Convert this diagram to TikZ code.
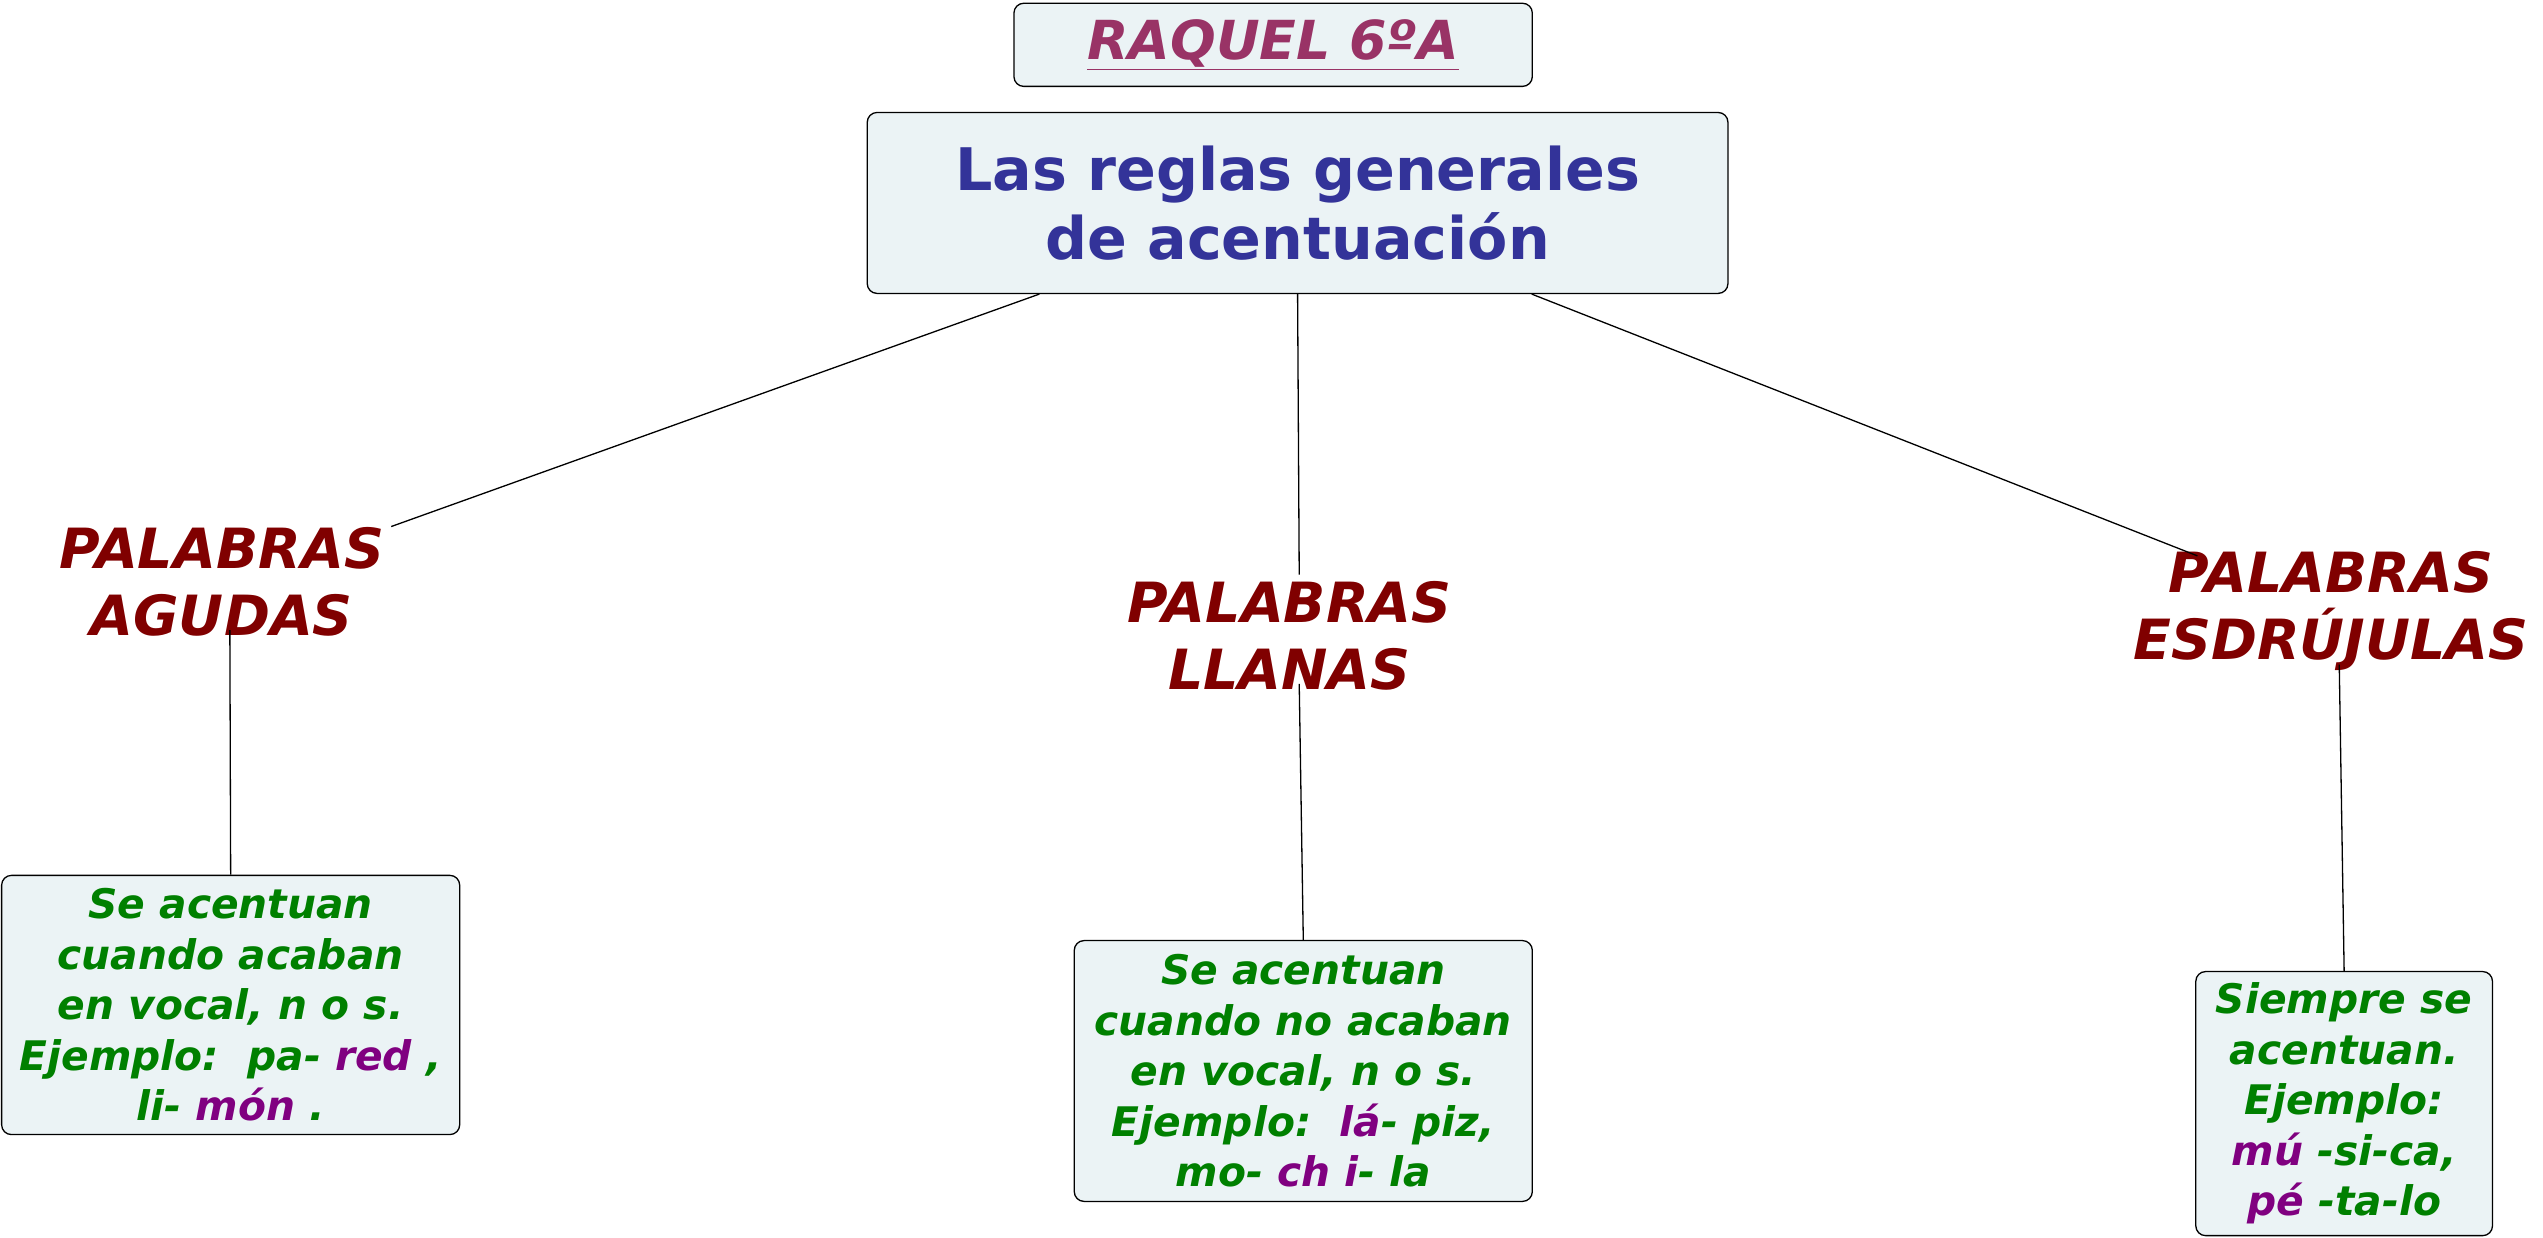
\documentclass[tikz,border=0pt]{standalone}
\usepackage{fontspec}
\setmainfont{DejaVu Sans}
\usetikzlibrary{calc}
\definecolor{boxfill}{HTML}{EBF3F5}
\definecolor{titleblue}{HTML}{333399}
\definecolor{dred}{HTML}{800000}
\definecolor{dgreen}{HTML}{008000}
\definecolor{purp}{HTML}{800080}
\definecolor{raq}{HTML}{993366}
\tikzset{
  box/.style={draw, rounded corners=6pt, fill=boxfill, line width=0.8pt, inner sep=0pt},
  cat/.style={text=dred, font=\fontsize{34}{41}\selectfont\bfseries\itshape, align=center, inner sep=0pt},
  desc/.style={text=dgreen, font=\fontsize{25}{31}\selectfont\bfseries\itshape, align=center, inner sep=0pt},
  link/.style={line width=0.8pt}
}
\newcommand{\pu}[1]{\textcolor{purp}{#1}}
\begin{document}
\begin{tikzpicture}[x=1pt,y=-1pt]
\useasboundingbox (0,0) rectangle (1560,759);
% title boxes
\node[box, minimum width=318pt, minimum height=51pt] (raq) at (781,27.5) {};
\node[text=raq, font=\fontsize{33}{40}\selectfont\bfseries\itshape] at (raq) {\underline{RAQUEL 6ºA}};
\node[box, minimum width=528pt, minimum height=111pt] (main) at (796,124.5) {};
\node[text=titleblue, font=\fontsize{36}{42}\selectfont\bfseries, align=center] at (main) {Las reglas generales\\de acentuación};
% categories
\node[cat] (ag) at (136,357) {PALABRAS\\AGUDAS};
\node[cat] (ll) at (791,390) {PALABRAS\\LLANAS};
\node[cat] (es) at (1430,375) {PALABRAS\\ESDRÚJULAS};
% description boxes
\node[box, minimum width=281pt, minimum height=159pt] (b1) at (141.5,616.5) {};
\node[desc] at (b1) {Se acentuan\\cuando acaban\\en vocal, n o s.\\Ejemplo:\ \ pa- \pu{red} ,\\li- \pu{món} .};
\node[box, minimum width=281pt, minimum height=160pt] (b2) at (799.5,657) {};
\node[desc] at (b2) {Se acentuan\\cuando no acaban\\en vocal, n o s.\\Ejemplo:\ \ \pu{lá}- piz,\\mo- \pu{ch} \pu{i}- la};
\node[box, minimum width=182pt, minimum height=162pt] (b3) at (1438,677) {};
\node[desc] at (b3) {Siempre se\\acentuan.\\Ejemplo:\\\pu{mú} -si-ca,\\\pu{pé} -ta-lo};
% connectors
\coordinate (m1) at ($(main.south west)+(106,0)$);
\coordinate (m3) at ($(main.south west)+(408,0)$);
\coordinate (a1) at (240,323);
\coordinate (e1) at (1348,341);
\draw[link] (m1) -- (a1);
\draw[link] (main.south) -- ($(ll.north)+(6,-4)$);
\draw[link] (m3) -- (e1);
\draw[link] ($(ag.south)+(5,-4)$) -- (b1.north);
\draw[link] ($(ll.south)+(6,-4)$) -- (b2.north);
\draw[link] ($(es.south)+(5,-4)$) -- (b3.north);
\end{tikzpicture}
\end{document}
